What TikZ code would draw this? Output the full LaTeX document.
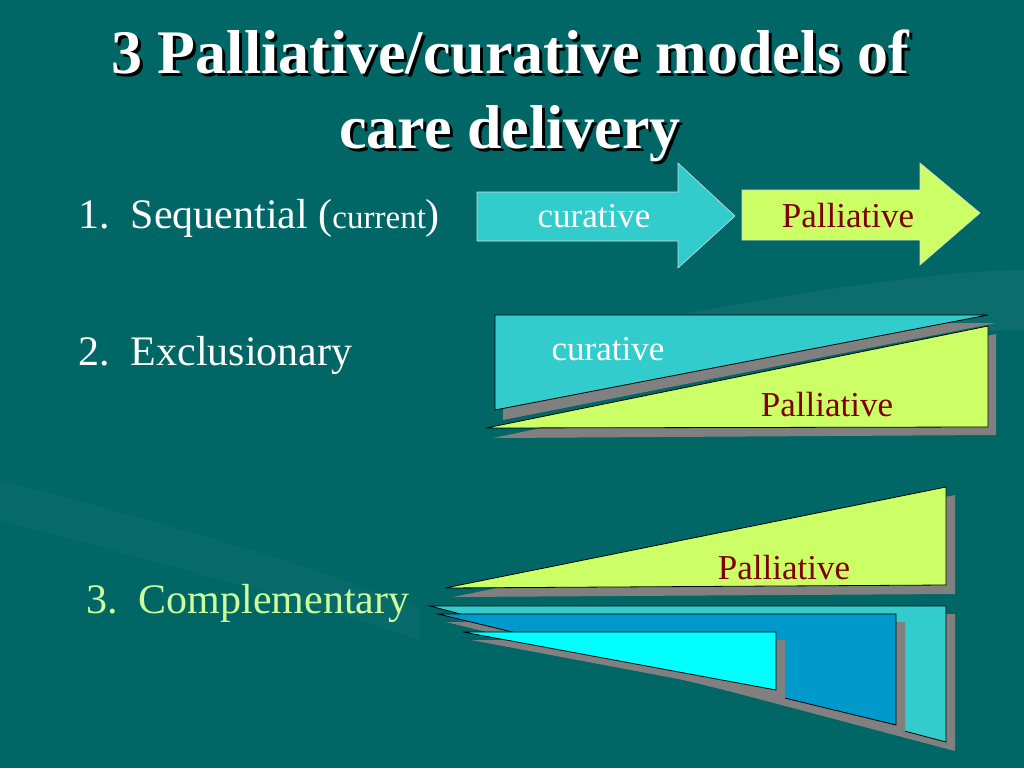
\documentclass[tikz,border=0pt]{standalone}
\usepackage{fontspec}
\setmainfont{Liberation Serif}
\definecolor{bg}{HTML}{006666}
\definecolor{tealf}{HTML}{33CCCC}
\definecolor{limef}{HTML}{CCFF66}
\definecolor{bluef}{HTML}{0099CC}
\definecolor{cyanf}{HTML}{00FFFF}
\definecolor{pal}{HTML}{800000}
\definecolor{comp}{HTML}{CCFF99}
\definecolor{shad}{HTML}{808080}
\begin{document}
\begin{tikzpicture}[x=1pt,y=-1pt,
  shp/.style={draw=black,line width=0.8pt},
  sh/.style={fill=shad},
  arr/.style={draw=white!85!black,line width=0.6pt},
  ttl/.style={font=\bfseries\fontsize{62}{75}\selectfont,align=center},
  txt/.style={font=\fontsize{42}{48}\selectfont,text=white,anchor=west,inner sep=0},
  lab/.style={font=\fontsize{35}{40}\selectfont,inner sep=0}]
\fill[bg] (0,0) rectangle (1024,768);
\fill[white,opacity=0.05] (600,330) .. controls (800,290) and (950,270) .. (1024,270) -- (1024,330) .. controls (900,330) and (750,360) .. (600,380) -- cycle;
\fill[white,opacity=0.03] (0,480) .. controls (150,520) and (300,560) .. (420,610) -- (420,640) .. controls (300,600) and (150,560) .. (0,520) -- cycle;
% title
\node[ttl,text=black] at (513,99) {3 Palliative/curative models of\\care delivery};
\node (title)[ttl,text=white] at (510,96) {3 Palliative/curative models of\\care delivery};
% items
\node (i1)[txt] at (78,218) {1.\ \ Sequential ({\fontsize{33}{38}\selectfont current})};
\node (i2)[txt] at (78,355) {2.\ \ Exclusionary};
\node (i3)[txt,text=comp] at (86,603) {3.\ \ Complementary};
% sequential arrows
\draw[arr,fill=tealf] (477,192) -- (678,192) -- (678,163) -- (735,216) -- (678,268) -- (678,241) -- (477,241) -- cycle;
\node (c1)[lab,text=white] at (594,216) {curative};
\draw[arr,fill=limef] (742,190) -- (920,190) -- (920,163) -- (980,213) -- (920,265) -- (920,240) -- (742,240) -- cycle;
\node (p1)[lab,text=pal] at (848,216) {Palliative};
% exclusionary
\fill[sh] (503,323) -- (996,323) -- (503,420) -- cycle;
\draw[shp,fill=tealf] (495,315) -- (988,315) -- (495,410) -- cycle;
\fill[sh] (493,438) -- (996,334) -- (996,435) -- cycle;
\draw[shp,fill=limef] (486,428) -- (988,326) -- (988,427) -- cycle;
\node (c2)[lab,text=white] at (608,349) {curative};
\node (p2)[lab,text=pal] at (827,405) {Palliative};
% complementary
\fill[sh] (453,597) -- (955,495) -- (955,594) -- cycle;
\draw[shp,fill=limef] (445,588) -- (946,487) -- (946,585) -- cycle;
\node (p3)[lab,text=pal] at (784,568) {Palliative};
\fill[sh] (438,614) -- (955,614) -- (955,751) -- cycle;
\draw[shp,fill=tealf] (430,606) -- (946,606) -- (946,742) -- cycle;
\fill[sh] (446,622) -- (905,622) -- (905,734) -- cycle;
\draw[shp,fill=bluef] (438,614) -- (896,614) -- (896,725) -- cycle;
\fill[sh] (471,640) -- (785,640) -- (785,699) -- cycle;
\draw[shp,fill=cyanf] (463,632) -- (776,632) -- (776,690) -- cycle;
\end{tikzpicture}
\end{document}
